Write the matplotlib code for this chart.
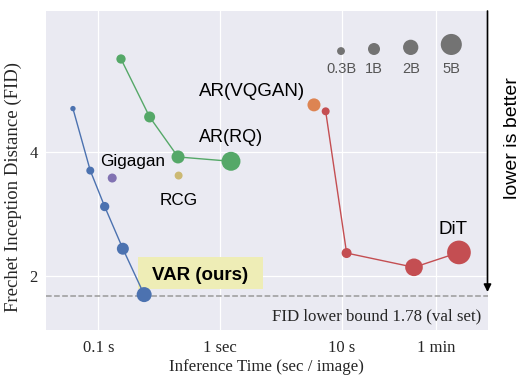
import matplotlib
matplotlib.use("Agg")
import matplotlib.pyplot as plt
from matplotlib.patches import Rectangle

# ---------------- data ----------------
var_time = [0.0618, 0.0858, 0.1127, 0.159, 0.238]
var_fid = [4.70, 3.70, 3.12, 2.44, 1.70]
var_params = [0.10, 0.31, 0.48, 1.0, 1.9]

rq_time = [0.1535, 0.264, 0.452, 1.232]
rq_fid = [5.50, 4.565, 3.92, 3.85]
rq_params = [0.48, 0.78, 1.26, 3.7]

gigagan_time = [0.130]
gigagan_fid = [3.58]
gigagan_params = [0.44]

rcg_time = [0.457]
rcg_fid = [3.62]
rcg_params = [0.31]

vqgan_time = [5.93]
vqgan_fid = [4.76]
vqgan_params = [1.26]

dit_time = [7.40, 11.0, 39.4, 92.3]
dit_fid = [4.656, 2.37, 2.14, 2.38]
dit_params = [0.31, 0.59, 3.0, 7.0]

legend_params = [0.3, 1, 2, 5]
legend_labels = ["0.3B", "1B", "2B", "5B"]

xtick_values = [0.1, 1, 10, 60]
xtick_labels = ["0.1 s", "1 sec", "10 s", "1 min"]
ytick_values = [2, 4]
fid_bound = 1.67

# ---------------- style ----------------
SERIF = "Liberation Serif"
SANS = "Liberation Sans"
C_BLUE = "#4C72B0"
C_GREEN = "#55A868"
C_RED = "#C44E52"
C_PURPLE = "#8172B2"
C_YELLOW = "#CCB974"
C_ORANGE = "#DD8452"

W, H = 525, 386
L, R, T, B = 46, 488, 11, 330  # axes box in pixels


def size_of(p):
    d_px = 12.0 * p ** 0.35
    return (d_px * 0.72) ** 2


def ax_frac(px, py):
    return (px - L) / (R - L), (B - py) / (B - T)


fig = plt.figure(figsize=(W / 100, H / 100), dpi=100)
ax = fig.add_axes([L / W, (H - B) / H, (R - L) / W, (B - T) / H])
ax.set_facecolor("#EAEAF2")
for s in ax.spines.values():
    s.set_visible(False)

ax.set_xscale("log")
ax.set_xlim(0.0371, 160)
ax.set_ylim(1.129, 6.274)

ax.set_xticks(xtick_values)
ax.set_xticklabels(xtick_labels, fontfamily=SERIF, fontsize=12, color="#262626")
ax.minorticks_off()
ax.set_yticks(ytick_values)
ax.set_yticklabels([str(v) for v in ytick_values], fontfamily=SERIF, fontsize=12,
                   color="#262626")
ax.tick_params(axis="both", length=0)
ax.tick_params(axis="x", pad=7)
ax.tick_params(axis="y", pad=6)
ax.grid(True, color="white", lw=0.9)
ax.set_axisbelow(True)

ax.set_xlabel("Inference Time (sec / image)", fontfamily=SERIF, fontsize=12.2,
              color="#262626")
ax.set_ylabel("Frechet Inception Distance (FID)", fontfamily=SERIF, fontsize=13.5,
              color="#262626")
ax.xaxis.set_label_coords(0.498, -0.092)
ax.yaxis.set_label_coords(-0.054, 0.448)

# lower bound line
ax.axhline(fid_bound, color="#9a9a9a", ls="--", lw=1.1, zorder=1)

# VAR highlight box
x0, y0 = ax_frac(138, 289)
x1, y1 = ax_frac(263, 257)
ax.add_patch(Rectangle((x0, y0), x1 - x0, y1 - y0, transform=ax.transAxes,
                       facecolor="#EEEDB6", edgecolor="none", zorder=1.5))

# series
series = [
    (var_time, var_fid, var_params, C_BLUE, True),
    (rq_time, rq_fid, rq_params, C_GREEN, True),
    (gigagan_time, gigagan_fid, gigagan_params, C_PURPLE, False),
    (rcg_time, rcg_fid, rcg_params, C_YELLOW, False),
    (vqgan_time, vqgan_fid, vqgan_params, C_ORANGE, False),
    (dit_time, dit_fid, dit_params, C_RED, True),
]
for xs, ys, ps, col, line in series:
    if line:
        ax.plot(xs, ys, color=col, lw=1.0, zorder=2)
    ax.scatter(xs, ys, s=[size_of(p) for p in ps], color=col, edgecolors="none",
               zorder=3)

# size legend
leg_px = [341, 374, 410.7, 451.3]
for px, p, lab in zip(leg_px, legend_params, legend_labels):
    r_px = 6.0 * p ** 0.35
    fx, fy = ax_frac(px, 55 - r_px)
    ax.scatter([fx], [fy], s=size_of(p), color="#737373", edgecolors="none",
               transform=ax.transAxes, zorder=3, clip_on=False)
    tx, ty = ax_frac(px, 72.7)
    ax.text(tx, ty, lab, transform=ax.transAxes, ha="center", va="baseline",
            fontfamily=SANS, fontsize=10.5, color="#555555")

# method labels
labels = [
    ("AR(VQGAN)", 199, 96, 13.5, "normal"),
    ("AR(RQ)", 199, 142, 13, "normal"),
    ("Gigagan", 100, 166, 12.3, "normal"),
    ("RCG", 160, 205, 12.3, "normal"),
    ("DiT", 438, 234, 13.5, "normal"),
    ("VAR (ours)", 151.7, 279.5, 13.5, "bold"),
]
for txt, px, py, fs, fw in labels:
    fx, fy = ax_frac(px, py)
    ax.text(fx, fy, txt, transform=ax.transAxes, ha="left", va="baseline",
            fontfamily=SANS, fontsize=fs, fontweight=fw, color="black", zorder=4)

fx, fy = ax_frac(481, 320)
ax.text(fx, fy, "FID lower bound 1.78 (val set)", transform=ax.transAxes,
        ha="right", va="baseline", fontfamily=SERIF, fontsize=12.2, color="#262626")

# lower is better arrow
ax_x, _ = ax_frac(487.5, 0)
_, tip_y = ax_frac(0, 292)
ax.annotate("", xy=(ax_x, tip_y), xytext=(ax_x, 1.0), xycoords="axes fraction",
            textcoords="axes fraction",
            arrowprops=dict(arrowstyle="-|>", color="black", lw=1.2,
                            mutation_scale=11, shrinkA=0, shrinkB=0),
            annotation_clip=False)
fig.text(512.5 / W, (H - 138.5) / H, "lower is better", rotation=90,
         ha="center", va="center", fontfamily=SANS, fontsize=14, color="black")

fig.savefig("out.png", dpi=100)
